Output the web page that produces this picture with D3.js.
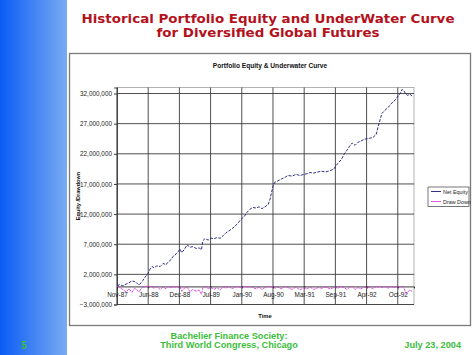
<!DOCTYPE html>
<html>
<head>
<meta charset="utf-8">
<script src="https://cdn.jsdelivr.net/npm/d3@7/dist/d3.min.js"></script>
<style>
  html, body { margin: 0; padding: 0; background: #fff; }
  svg { display: block; }
</style>
</head>
<body>
<svg id="chart" width="474" height="355"></svg>
<script>
// ---------------- DATA ----------------
const slideTitle = ["Historical Portfolio Equity and UnderWater Curve", "for Diversified Global Futures"];
const chartTitle = "Portfolio Equity & Underwater Curve";
const yAxisTitle = "Equity /Drawdown";
const xAxisTitle = "Time";
const seriesNames = ["Net Equity", "Draw Down"];
const xTickLabels = ["Nov-87", "Jun-88", "Dec-88", "Jul-89", "Jan-90", "Aug-90", "Mar-91", "Sep-91", "Apr-92", "Oct-92"];
const monthsPerLabel = 6.5;           // one category label every ~6.5 months
const yTickValues = [-3, 2, 7, 12, 17, 22, 27, 32]; // millions
const footerLines = ["Bachelier Finance Society:", "Third World Congress,  Chicago"];
const footerDate = "July 23, 2004";
const slideNumber = "5";

// months since Nov-87
const months = [0, 0.6, 1.2, 1.9, 2.5, 3.1, 3.7, 4.2, 4.6, 5.0, 5.4, 5.8, 6.5, 6.9, 7.3, 7.7, 8.3, 9.0, 9.6, 10.2,
  10.6, 11.2, 11.7, 12.1, 12.5, 12.9, 13.1, 13.5, 14.0, 14.6, 15.2, 15.8, 16.5, 17.1, 17.6, 17.9, 18.3, 19.0, 19.6, 20.2,
  20.8, 21.5, 22.1, 22.7, 23.3, 24.0, 24.6, 25.2, 25.8, 26.5, 27.1, 27.7, 28.3, 29.0, 29.6, 30.2, 30.8, 31.5, 31.9, 32.2,
  32.5, 32.9, 33.5, 34.2, 35.0, 35.6, 36.5, 37.3, 38.1, 39.0, 39.6, 40.2, 41.0, 41.9, 42.7, 43.5, 44.4, 45.2, 45.6, 46.0,
  46.7, 47.3, 47.9, 48.5, 49.0, 49.6, 50.2, 50.8, 51.5, 52.1, 52.7, 53.3, 54.0, 54.4, 54.8, 55.2, 55.8, 56.5, 57.1, 57.7,
  58.3, 59.0, 59.4, 59.8, 60.2, 60.6, 61.0, 61.5];

// Net equity, millions
const netEquity = [0.1, 0.3, 0.1, 0.4, 0.6, 0.9, 0.8, 0.5, 0.2, 0.6, 1.0, 1.5, 2.2, 2.9, 3.3, 3.1, 3.4, 3.3, 3.8, 3.6,
  4.0, 4.4, 5.0, 5.2, 5.6, 5.9, 6.2, 5.6, 6.1, 6.9, 6.5, 6.6, 6.3, 6.4, 6.1, 7.6, 7.9, 7.7, 8.0, 7.9,
  8.1, 8.0, 8.4, 8.9, 9.2, 9.6, 10.0, 10.5, 11.1, 11.6, 12.3, 12.8, 13.1, 13.0, 13.2, 12.9, 13.2, 13.6, 14.5, 15.6,
  16.6, 17.3, 17.5, 17.8, 18.1, 18.4, 18.3, 18.6, 18.4, 18.6, 18.7, 18.9, 18.8, 19.0, 19.1, 19.0, 19.2, 19.5, 20.0, 20.4,
  21.0, 21.9, 22.6, 23.3, 23.8, 23.4, 23.9, 24.1, 24.4, 24.5, 24.6, 24.7, 25.2, 26.5, 27.6, 28.7, 29.2, 29.7, 30.3, 30.7,
  31.3, 32.0, 32.7, 32.4, 31.9, 31.7, 31.9, 31.6];

// Draw down, millions
const drawDown = [0, -0.2, -0.5, -0.9, -0.4, -1.0, -0.3, -0.6, -0.9, -0.4, -0.1, 0, 0, 0, -0.1, -0.3, 0, -0.5, -0.1, -0.4,
  0, -0.2, 0, -0.1, 0, -0.2, 0, -0.8, -0.3, -0.1, -0.9, -0.5, -0.8, -0.6, -1.3, -0.2, 0, -0.4, -0.1, -0.5,
  -0.2, -0.6, -0.1, -0.3, 0, -0.4, -0.1, 0, -0.2, 0, -0.1, 0, -0.2, -0.4, -0.1, -0.5, -0.2, 0, 0, -0.1,
  0, -0.3, -0.1, -0.4, 0, -0.2, -0.5, -0.1, -0.6, -0.2, -0.4, -0.1, -0.5, -0.2, -0.3, -0.1, -0.4, -0.2, -0.1, -0.3,
  0, -0.2, -0.5, -0.1, 0, -0.5, -0.2, -0.4, -0.1, -0.3, -0.1, -0.4, 0, -0.1, 0, -0.2, 0, -0.3, 0, -0.2,
  0, -0.1, 0, -0.3, -1.2, -0.9, -0.6, -0.8];

// ---------------- DRAW ----------------
const svg = d3.select("#chart");
const W = 474, H = 355;

const defs = svg.append("defs");
const grad = defs.append("linearGradient").attr("id", "side").attr("x1", "0").attr("x2", "1").attr("y1", "0").attr("y2", "0");
grad.append("stop").attr("offset", "0%").attr("stop-color", "#0b5cf6");
grad.append("stop").attr("offset", "100%").attr("stop-color", "#78abf2");

svg.append("rect").attr("width", W).attr("height", H).attr("fill", "#ffffff");
svg.append("rect").attr("x", 0).attr("y", 0).attr("width", 67).attr("height", H).attr("fill", "url(#side)");

// slide title
const titleColor = "#b3121c";
svg.append("text").attr("x", 268).attr("y", 22.8).attr("text-anchor", "middle")
  .attr("font-family", "DejaVu Sans, Verdana, sans-serif").attr("font-weight", "bold").attr("font-size", 12.8)
  .attr("fill", titleColor).attr("textLength", 373).attr("lengthAdjust", "spacingAndGlyphs").text(slideTitle[0]);
svg.append("text").attr("x", 268).attr("y", 37).attr("text-anchor", "middle")
  .attr("font-family", "DejaVu Sans, Verdana, sans-serif").attr("font-weight", "bold").attr("font-size", 12.8)
  .attr("fill", titleColor).attr("textLength", 223).attr("lengthAdjust", "spacingAndGlyphs").text(slideTitle[1]);

// chart frame
svg.append("rect").attr("x", 69.5).attr("y", 53.5).attr("width", 401).attr("height", 272)
  .attr("fill", "#ffffff").attr("stroke", "#7a7a7a").attr("stroke-width", 1.3);

svg.append("text").attr("x", 270).attr("y", 67.5).attr("text-anchor", "middle")
  .attr("font-family", "Liberation Sans, Arial, sans-serif").attr("font-weight", "bold").attr("font-size", 6.6)
  .attr("fill", "#111").text(chartTitle);

// scales
const plot = { left: 117, right: 414, top: 87.5, bottom: 304.5 };
const x = d3.scaleLinear().domain([0, monthsPerLabel * 9.52]).range([plot.left, plot.right]);
const y = d3.scaleLinear().domain([-3, 33]).range([plot.bottom, plot.top]);
const xTickPos = xTickLabels.map((d, i) => i * monthsPerLabel);

// plot background + border
svg.append("rect").attr("x", plot.left).attr("y", plot.top).attr("width", plot.right - plot.left)
  .attr("height", plot.bottom - plot.top).attr("fill", "#fff").attr("stroke", "#a0a0a0").attr("stroke-width", 0.8);

// gridlines
const grid = svg.append("g").attr("stroke", "#3c3c3c").attr("stroke-width", 0.9);
grid.selectAll("line.h").data(yTickValues).join("line")
  .attr("x1", plot.left).attr("x2", plot.right).attr("y1", d => y(d)).attr("y2", d => y(d));
grid.selectAll("line.v").data(xTickPos).join("line")
  .attr("x1", d => x(d)).attr("x2", d => x(d)).attr("y1", plot.top).attr("y2", plot.bottom);

// y axis
const yAxis = d3.axisLeft(y).tickValues(yTickValues).tickSize(3).tickPadding(2)
  .tickFormat(d => d3.format(",")(d * 1e6));
const gy = svg.append("g").attr("transform", `translate(${plot.left},0)`).call(yAxis);
gy.select(".domain").attr("stroke", "#3c3c3c").attr("stroke-width", 0.9);
gy.selectAll(".tick line").attr("stroke", "#3c3c3c");
gy.selectAll("text").attr("font-family", "Liberation Sans, Arial, sans-serif").attr("font-size", 6.4).attr("fill", "#222");

// x axis at zero
const xAxis = d3.axisBottom(x).tickValues(xTickPos).tickSize(2).tickPadding(4)
  .tickFormat((d, i) => xTickLabels[i]);
const gx = svg.append("g").attr("transform", `translate(0,${y(0)})`).call(xAxis);
gx.select(".domain").attr("stroke", "#222").attr("stroke-width", 0.9);
gx.selectAll(".tick line").attr("stroke", "#222");
gx.selectAll("text").attr("font-family", "Liberation Sans, Arial, sans-serif").attr("font-size", 6.4).attr("fill", "#222");

// axis titles
svg.append("text").attr("transform", `translate(79.5,196) rotate(-90)`).attr("text-anchor", "middle")
  .attr("font-family", "Liberation Sans, Arial, sans-serif").attr("font-weight", "bold").attr("font-size", 5.6)
  .attr("fill", "#111").text(yAxisTitle);
svg.append("text").attr("x", 265).attr("y", 317.5).attr("text-anchor", "middle")
  .attr("font-family", "Liberation Sans, Arial, sans-serif").attr("font-weight", "bold").attr("font-size", 5.8)
  .attr("fill", "#111").text(xAxisTitle);

// series
const eqColor = "#1c1c78", ddColor = "#dd44dd";
const line = d3.line().x(d => x(d[0])).y(d => y(d[1]));
svg.append("path").datum(months.map((m, i) => [m, drawDown[i]]))
  .attr("d", line).attr("fill", "none").attr("stroke", ddColor).attr("stroke-width", 0.9)
  .attr("stroke-dasharray", "3,0.8");
svg.append("path").datum(months.map((m, i) => [m, netEquity[i]]))
  .attr("d", line).attr("fill", "none").attr("stroke", eqColor).attr("stroke-width", 0.9)
  .attr("stroke-dasharray", "3,1.3");

// legend
const lg = svg.append("g").attr("transform", "translate(428,187)");
lg.append("rect").attr("width", 41).attr("height", 19.5).attr("fill", "#fff").attr("stroke", "#555").attr("stroke-width", 0.8);
const lcol = [eqColor, ddColor];
seriesNames.forEach((n, i) => {
  const yy = 4.5 + i * 10;
  lg.append("line").attr("x1", 3).attr("x2", 13).attr("y1", yy).attr("y2", yy).attr("stroke", lcol[i]).attr("stroke-width", 0.9);
  lg.append("text").attr("x", 15).attr("y", yy + 2).attr("font-family", "Liberation Sans, Arial, sans-serif")
    .attr("font-size", 5.4).attr("fill", "#222").text(n);
});

// footer
const green = "#3cbd3c";
footerLines.forEach((t, i) => {
  svg.append("text").attr("x", 229).attr("y", 339 + i * 9.3).attr("text-anchor", "middle")
    .attr("font-family", "Liberation Sans, Arial, sans-serif").attr("font-weight", "bold").attr("font-size", 9.2)
    .attr("fill", green).text(t);
});
svg.append("text").attr("x", 461).attr("y", 348.3).attr("text-anchor", "end")
  .attr("font-family", "Liberation Sans, Arial, sans-serif").attr("font-weight", "bold").attr("font-size", 9.2)
  .attr("fill", green).text(footerDate);
svg.append("text").attr("x", 24).attr("y", 348.5).attr("text-anchor", "middle")
  .attr("font-family", "Liberation Sans, Arial, sans-serif").attr("font-weight", "bold").attr("font-size", 10)
  .attr("fill", green).text(slideNumber);
</script>
</body>
</html>
